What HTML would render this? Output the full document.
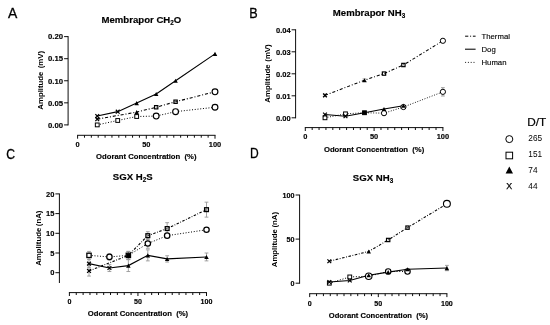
<!DOCTYPE html>
<html><head><meta charset="utf-8"><title>Figure</title>
<style>
html,body{margin:0;padding:0;background:#fff;}
body{width:550px;height:325px;overflow:hidden;}
svg{display:block;filter:blur(0.3px);font-family:'Liberation Sans', Arial, Helvetica, sans-serif;fill:#000;}
svg text{fill:#000;}
</style></head><body>
<svg width="550" height="325" viewBox="0 0 550 325" font-family="Liberation Sans, Arial, sans-serif">
<rect width="550" height="325" fill="#fff"/>
<text x="141.4" y="22.5" text-anchor="middle" font-weight="bold" font-size="9.6" stroke="#000" stroke-width="0.15">Membrapor CH<tspan font-size="6.3" dy="2">2</tspan><tspan dy="-2">O</tspan></text>
<path d="M68.1 36.1 V125.4 M68.1 124.90 h-4.0 M68.1 102.83 h-4.0 M68.1 80.76 h-4.0 M68.1 58.69 h-4.0 M68.1 36.62 h-4.0" stroke="#000" stroke-width="0.95" fill="none"/>
<text x="63.10" y="127.65" text-anchor="end" font-weight="bold" font-size="7.75" stroke="#000" stroke-width="0.15">0.00</text>
<text x="63.10" y="105.58" text-anchor="end" font-weight="bold" font-size="7.75" stroke="#000" stroke-width="0.15">0.05</text>
<text x="63.10" y="83.51" text-anchor="end" font-weight="bold" font-size="7.75" stroke="#000" stroke-width="0.15">0.10</text>
<text x="63.10" y="61.44" text-anchor="end" font-weight="bold" font-size="7.75" stroke="#000" stroke-width="0.15">0.15</text>
<text x="63.10" y="39.37" text-anchor="end" font-weight="bold" font-size="7.75" stroke="#000" stroke-width="0.15">0.20</text>
<path d="M77.1 135.3 H215.5 M77.60 135.3 v3.4 M84.47 135.3 v2.4 M91.34 135.3 v2.4 M98.21 135.3 v2.4 M105.08 135.3 v2.4 M111.95 135.3 v2.4 M118.82 135.3 v2.4 M125.69 135.3 v2.4 M132.56 135.3 v2.4 M139.43 135.3 v2.4 M146.30 135.3 v3.4 M153.17 135.3 v2.4 M160.04 135.3 v2.4 M166.91 135.3 v2.4 M173.78 135.3 v2.4 M180.65 135.3 v2.4 M187.52 135.3 v2.4 M194.39 135.3 v2.4 M201.26 135.3 v2.4 M208.13 135.3 v2.4 M215.00 135.3 v3.4" stroke="#000" stroke-width="0.95" fill="none"/>
<text x="77.60" y="147.30" text-anchor="middle" font-weight="bold" font-size="7.45" stroke="#000" stroke-width="0.15">0</text>
<text x="146.30" y="147.30" text-anchor="middle" font-weight="bold" font-size="7.45" stroke="#000" stroke-width="0.15">50</text>
<text x="215.00" y="147.30" text-anchor="middle" font-weight="bold" font-size="7.45" stroke="#000" stroke-width="0.15">100</text>
<text x="146.30" y="158.60" text-anchor="middle" font-weight="bold" font-size="7.7" stroke="#000" stroke-width="0.15" xml:space="preserve">Odorant Concentration  (%)</text>
<text transform="translate(42.6 80.3) rotate(-90)" text-anchor="middle" font-weight="bold" font-size="7.8" >Amplitude<tspan dx="3.3">(mV)</tspan></text>
<path d="M97.25 124.90 L117.72 120.49 L136.68 116.51 L156.19 116.07 L175.57 111.66 L215.00 107.24" stroke="#000" stroke-width="1.0" fill="none" stroke-dasharray="1.00 1.75"/>
<path d="M97.25 119.16 L136.68 112.10 L156.19 107.24 L175.57 101.73 L215.00 91.80" stroke="#000" stroke-width="1.1" fill="none" stroke-dasharray="3.10 1.90 1.00 1.90"/>
<path d="M97.25 116.07 L117.72 111.66 L136.68 103.05 L156.19 94.00 L175.57 80.76 L215.00 53.83" stroke="#000" stroke-width="1.1" fill="none"/>
<rect x="95.35" y="123.00" width="3.8" height="3.8" fill="#fff" stroke="#000" stroke-width="1.0"/>
<rect x="115.82" y="118.59" width="3.8" height="3.8" fill="#fff" stroke="#000" stroke-width="1.0"/>
<rect x="134.78" y="114.61" width="3.8" height="3.8" fill="#fff" stroke="#000" stroke-width="1.0"/>
<circle cx="156.19" cy="116.07" r="2.9" fill="#fff" stroke="#000" stroke-width="1.15"/>
<circle cx="175.57" cy="111.66" r="2.9" fill="#fff" stroke="#000" stroke-width="1.15"/>
<circle cx="215.00" cy="107.24" r="2.9" fill="#fff" stroke="#000" stroke-width="1.15"/>
<path d="M95.35 117.26 L99.15 121.06 M95.35 121.06 L99.15 117.26" stroke="#000" stroke-width="1.2" fill="none"/>
<path d="M136.68 110.10 L138.93 114.20 L134.43 114.20 Z" fill="#000"/>
<rect x="154.54" y="105.59" width="3.3" height="3.3" fill="#fff" fill-opacity="0.25" stroke="#000" stroke-width="1.2"/>
<rect x="173.92" y="100.08" width="3.3" height="3.3" fill="#fff" fill-opacity="0.25" stroke="#000" stroke-width="1.2"/>
<circle cx="215.00" cy="91.80" r="2.9" fill="#fff" stroke="#000" stroke-width="1.15"/>
<path d="M95.35 114.17 L99.15 117.97 M95.35 117.97 L99.15 114.17" stroke="#000" stroke-width="1.2" fill="none"/>
<path d="M115.82 109.76 L119.62 113.56 M115.82 113.56 L119.62 109.76" stroke="#000" stroke-width="1.2" fill="none"/>
<path d="M136.68 101.05 L138.93 105.15 L134.43 105.15 Z" fill="#000"/>
<path d="M156.19 92.00 L158.44 96.10 L153.94 96.10 Z" fill="#000"/>
<path d="M175.57 78.76 L177.82 82.86 L173.32 82.86 Z" fill="#000"/>
<path d="M215.00 51.83 L217.25 55.93 L212.75 55.93 Z" fill="#000"/>
<text x="369.0" y="15.9" text-anchor="middle" font-weight="bold" font-size="9.6" stroke="#000" stroke-width="0.15">Membrapor NH<tspan font-size="6.3" dy="2">3</tspan></text>
<path d="M295.6 29.3 V118.3 M295.6 117.80 h-4.0 M295.6 95.80 h-4.0 M295.6 73.80 h-4.0 M295.6 51.80 h-4.0 M295.6 29.80 h-4.0" stroke="#000" stroke-width="0.95" fill="none"/>
<text x="290.60" y="120.55" text-anchor="end" font-weight="bold" font-size="7.5" stroke="#000" stroke-width="0.15">0.00</text>
<text x="290.60" y="98.55" text-anchor="end" font-weight="bold" font-size="7.5" stroke="#000" stroke-width="0.15">0.01</text>
<text x="290.60" y="76.55" text-anchor="end" font-weight="bold" font-size="7.5" stroke="#000" stroke-width="0.15">0.02</text>
<text x="290.60" y="54.55" text-anchor="end" font-weight="bold" font-size="7.5" stroke="#000" stroke-width="0.15">0.03</text>
<text x="290.60" y="32.55" text-anchor="end" font-weight="bold" font-size="7.5" stroke="#000" stroke-width="0.15">0.04</text>
<path d="M304.8 127.6 H443.4 M305.30 127.6 v3.4 M312.18 127.6 v2.4 M319.06 127.6 v2.4 M325.94 127.6 v2.4 M332.82 127.6 v2.4 M339.70 127.6 v2.4 M346.58 127.6 v2.4 M353.46 127.6 v2.4 M360.34 127.6 v2.4 M367.22 127.6 v2.4 M374.10 127.6 v3.4 M380.98 127.6 v2.4 M387.86 127.6 v2.4 M394.74 127.6 v2.4 M401.62 127.6 v2.4 M408.50 127.6 v2.4 M415.38 127.6 v2.4 M422.26 127.6 v2.4 M429.14 127.6 v2.4 M436.02 127.6 v2.4 M442.90 127.6 v3.4" stroke="#000" stroke-width="0.95" fill="none"/>
<text x="305.30" y="139.40" text-anchor="middle" font-weight="bold" font-size="7.45" stroke="#000" stroke-width="0.15">0</text>
<text x="374.10" y="139.40" text-anchor="middle" font-weight="bold" font-size="7.45" stroke="#000" stroke-width="0.15">50</text>
<text x="442.90" y="139.40" text-anchor="middle" font-weight="bold" font-size="7.45" stroke="#000" stroke-width="0.15">100</text>
<text x="374.10" y="151.50" text-anchor="middle" font-weight="bold" font-size="7.7" stroke="#000" stroke-width="0.15" xml:space="preserve">Odorant Concentration  (%)</text>
<text transform="translate(270.1 73.5) rotate(-90)" text-anchor="middle" font-weight="bold" font-size="7.8" >Amplitude<tspan dx="2.8">(mV)</tspan></text>
<path d="M442.90 87.66 V96.02 M441.00 87.66 h3.8 M441.00 96.02 h3.8" stroke="#999" stroke-width="0.9" fill="none"/>
<path d="M324.98 117.80 L345.48 113.84 L364.47 112.74 L384.01 113.18 L403.41 107.02 L442.90 91.84" stroke="#000" stroke-width="0.93" fill="none" stroke-dasharray="0.93 1.63"/>
<path d="M324.98 94.04 V96.68 M323.08 94.04 h3.8 M323.08 96.68 h3.8" stroke="#999" stroke-width="0.9" fill="none"/>
<path d="M364.47 78.86 V81.50 M362.57 78.86 h3.8 M362.57 81.50 h3.8" stroke="#999" stroke-width="0.9" fill="none"/>
<path d="M324.98 95.36 L364.47 80.18 L384.01 73.58 L403.41 65.00 L442.90 40.80" stroke="#000" stroke-width="1.0230000000000001" fill="none" stroke-dasharray="3.10 1.90 1.00 1.90"/>
<path d="M324.98 114.50 L345.48 116.26 L364.47 112.74 L384.01 109.00 L403.41 105.70" stroke="#000" stroke-width="1.1" fill="none"/>
<rect x="323.08" y="115.90" width="3.8" height="3.8" fill="#fff" stroke="#000" stroke-width="1.0"/>
<rect x="343.58" y="111.94" width="3.8" height="3.8" fill="#fff" stroke="#000" stroke-width="1.0"/>
<rect x="362.57" y="110.84" width="3.8" height="3.8" fill="#fff" stroke="#000" stroke-width="1.0"/>
<circle cx="384.01" cy="113.18" r="2.6" fill="#fff" stroke="#000" stroke-width="1.0"/>
<circle cx="403.41" cy="107.02" r="2.6" fill="#fff" stroke="#000" stroke-width="1.0"/>
<circle cx="442.90" cy="91.84" r="2.6" fill="#fff" stroke="#000" stroke-width="1.0"/>
<path d="M323.08 93.46 L326.88 97.26 M323.08 97.26 L326.88 93.46" stroke="#000" stroke-width="1.2" fill="none"/>
<path d="M364.47 78.18 L366.72 82.28 L362.22 82.28 Z" fill="#000"/>
<rect x="382.36" y="71.93" width="3.3" height="3.3" fill="#fff" fill-opacity="0.25" stroke="#000" stroke-width="1.2"/>
<rect x="401.76" y="63.35" width="3.3" height="3.3" fill="#fff" fill-opacity="0.25" stroke="#000" stroke-width="1.2"/>
<circle cx="442.90" cy="40.80" r="2.6" fill="#fff" stroke="#000" stroke-width="1.0"/>
<path d="M323.08 112.60 L326.88 116.40 M323.08 116.40 L326.88 112.60" stroke="#000" stroke-width="1.2" fill="none"/>
<path d="M343.58 114.36 L347.38 118.16 M343.58 118.16 L347.38 114.36" stroke="#000" stroke-width="1.2" fill="none"/>
<rect x="362.52" y="110.79" width="3.9" height="3.9" fill="#000"/>
<path d="M384.01 107.00 L386.26 111.10 L381.76 111.10 Z" fill="#000"/>
<path d="M403.41 103.70 L405.66 107.80 L401.16 107.80 Z" fill="#000"/>
<text x="132.7" y="179.6" text-anchor="middle" font-weight="bold" font-size="9.6" stroke="#000" stroke-width="0.15">SGX H<tspan font-size="6.3" dy="2">2</tspan><tspan dy="-2">S</tspan></text>
<path d="M59.4 193.5 V283.0 M59.4 272.70 h-4.0 M59.4 253.00 h-4.0 M59.4 233.30 h-4.0 M59.4 213.60 h-4.0 M59.4 193.90 h-4.0" stroke="#000" stroke-width="0.95" fill="none"/>
<text x="54.40" y="275.45" text-anchor="end" font-weight="bold" font-size="7.5" stroke="#000" stroke-width="0.15">0</text>
<text x="54.40" y="255.75" text-anchor="end" font-weight="bold" font-size="7.5" stroke="#000" stroke-width="0.15">5</text>
<text x="54.40" y="236.05" text-anchor="end" font-weight="bold" font-size="7.5" stroke="#000" stroke-width="0.15">10</text>
<text x="54.40" y="216.35" text-anchor="end" font-weight="bold" font-size="7.5" stroke="#000" stroke-width="0.15">15</text>
<text x="54.40" y="196.65" text-anchor="end" font-weight="bold" font-size="7.5" stroke="#000" stroke-width="0.15">20</text>
<path d="M68.9 292.6 H207.0 M69.40 292.6 v3.4 M76.26 292.6 v2.4 M83.11 292.6 v2.4 M89.97 292.6 v2.4 M96.82 292.6 v2.4 M103.68 292.6 v2.4 M110.53 292.6 v2.4 M117.39 292.6 v2.4 M124.24 292.6 v2.4 M131.09 292.6 v2.4 M137.95 292.6 v3.4 M144.81 292.6 v2.4 M151.66 292.6 v2.4 M158.51 292.6 v2.4 M165.37 292.6 v2.4 M172.23 292.6 v2.4 M179.08 292.6 v2.4 M185.94 292.6 v2.4 M192.79 292.6 v2.4 M199.65 292.6 v2.4 M206.50 292.6 v3.4" stroke="#000" stroke-width="0.95" fill="none"/>
<text x="69.40" y="303.80" text-anchor="middle" font-weight="bold" font-size="7.1" stroke="#000" stroke-width="0.15">0</text>
<text x="137.95" y="303.80" text-anchor="middle" font-weight="bold" font-size="7.1" stroke="#000" stroke-width="0.15">50</text>
<text x="206.50" y="303.80" text-anchor="middle" font-weight="bold" font-size="7.1" stroke="#000" stroke-width="0.15">100</text>
<text x="137.95" y="316.10" text-anchor="middle" font-weight="bold" font-size="7.7" stroke="#000" stroke-width="0.15" xml:space="preserve">Odorant Concentration  (%)</text>
<text transform="translate(40.8 238.2) rotate(-90)" text-anchor="middle" font-weight="bold" font-size="7.8" >Amplitude<tspan dx="1.5">(nA)</tspan></text>
<path d="M89.01 251.42 V259.30 M87.11 251.42 h3.8 M87.11 259.30 h3.8" stroke="#999" stroke-width="0.9" fill="none"/>
<path d="M109.43 253.79 V260.09 M107.53 253.79 h3.8 M107.53 260.09 h3.8" stroke="#999" stroke-width="0.9" fill="none"/>
<path d="M128.35 251.42 V259.30 M126.45 251.42 h3.8 M126.45 259.30 h3.8" stroke="#999" stroke-width="0.9" fill="none"/>
<path d="M147.82 238.82 V248.27 M145.92 238.82 h3.8 M145.92 248.27 h3.8" stroke="#999" stroke-width="0.9" fill="none"/>
<path d="M89.01 255.36 L109.43 256.94 L128.35 255.36 L147.82 243.54 L167.15 235.66 L206.50 229.75" stroke="#000" stroke-width="1.0" fill="none" stroke-dasharray="1.00 1.75"/>
<path d="M89.01 265.80 V276.05 M87.11 265.80 h3.8 M87.11 276.05 h3.8" stroke="#999" stroke-width="0.9" fill="none"/>
<path d="M128.35 251.42 V259.30 M126.45 251.42 h3.8 M126.45 259.30 h3.8" stroke="#999" stroke-width="0.9" fill="none"/>
<path d="M147.82 231.72 V239.60 M145.92 231.72 h3.8 M145.92 239.60 h3.8" stroke="#999" stroke-width="0.9" fill="none"/>
<path d="M167.15 222.66 V234.48 M165.25 222.66 h3.8 M165.25 234.48 h3.8" stroke="#999" stroke-width="0.9" fill="none"/>
<path d="M206.50 202.17 V217.15 M204.60 202.17 h3.8 M204.60 217.15 h3.8" stroke="#999" stroke-width="0.9" fill="none"/>
<path d="M89.01 270.93 L128.35 255.36 L147.82 235.66 L167.15 228.57 L206.50 209.66" stroke="#000" stroke-width="1.1" fill="none" stroke-dasharray="2.48 1.52 0.80 1.52"/>
<path d="M89.01 259.70 V267.58 M87.11 259.70 h3.8 M87.11 267.58 h3.8" stroke="#999" stroke-width="0.9" fill="none"/>
<path d="M109.43 264.43 V271.52 M107.53 264.43 h3.8 M107.53 271.52 h3.8" stroke="#999" stroke-width="0.9" fill="none"/>
<path d="M128.35 259.70 V271.52 M126.45 259.70 h3.8 M126.45 271.52 h3.8" stroke="#999" stroke-width="0.9" fill="none"/>
<path d="M147.82 249.85 V260.88 M145.92 249.85 h3.8 M145.92 260.88 h3.8" stroke="#999" stroke-width="0.9" fill="none"/>
<path d="M167.15 255.76 V262.06 M165.25 255.76 h3.8 M165.25 262.06 h3.8" stroke="#999" stroke-width="0.9" fill="none"/>
<path d="M206.50 253.00 V260.88 M204.60 253.00 h3.8 M204.60 260.88 h3.8" stroke="#999" stroke-width="0.9" fill="none"/>
<path d="M89.01 263.64 L109.43 267.97 L128.35 265.61 L147.82 255.36 L167.15 258.91 L206.50 256.94" stroke="#000" stroke-width="1.1" fill="none"/>
<rect x="86.86" y="253.21" width="4.3" height="4.3" fill="#fff" stroke="#000" stroke-width="1.3"/>
<circle cx="109.43" cy="256.94" r="2.7" fill="#fff" stroke="#000" stroke-width="1.25"/>
<rect x="126.20" y="253.21" width="4.3" height="4.3" fill="#fff" stroke="#000" stroke-width="1.3"/>
<circle cx="147.82" cy="243.54" r="2.7" fill="#fff" stroke="#000" stroke-width="1.25"/>
<circle cx="167.15" cy="235.66" r="2.7" fill="#fff" stroke="#000" stroke-width="1.25"/>
<circle cx="206.50" cy="229.75" r="2.7" fill="#fff" stroke="#000" stroke-width="1.25"/>
<path d="M87.11 269.03 L90.91 272.83 M87.11 272.83 L90.91 269.03" stroke="#000" stroke-width="1.2" fill="none"/>
<rect x="126.40" y="253.41" width="3.9" height="3.9" fill="#000"/>
<rect x="145.92" y="233.76" width="3.8" height="3.8" fill="#fff" fill-opacity="0.25" stroke="#000" stroke-width="1.3"/>
<rect x="165.25" y="226.67" width="3.8" height="3.8" fill="#fff" fill-opacity="0.25" stroke="#000" stroke-width="1.3"/>
<rect x="204.60" y="207.76" width="3.8" height="3.8" fill="#fff" fill-opacity="0.25" stroke="#000" stroke-width="1.3"/>
<path d="M87.11 261.74 L90.91 265.54 M87.11 265.54 L90.91 261.74" stroke="#000" stroke-width="1.2" fill="none"/>
<path d="M107.53 266.07 L111.33 269.87 M107.53 269.87 L111.33 266.07" stroke="#000" stroke-width="1.2" fill="none"/>
<path d="M128.35 263.61 L130.60 267.71 L126.10 267.71 Z" fill="#000"/>
<path d="M147.82 253.36 L150.07 257.46 L145.57 257.46 Z" fill="#000"/>
<path d="M167.15 256.91 L169.40 261.01 L164.90 261.01 Z" fill="#000"/>
<path d="M206.50 254.94 L208.75 259.04 L204.25 259.04 Z" fill="#000"/>
<text x="373.0" y="180.8" text-anchor="middle" font-weight="bold" font-size="9.6" stroke="#000" stroke-width="0.15">SGX NH<tspan font-size="6.3" dy="2">3</tspan></text>
<path d="M299.6 194.7 V283.7 M299.6 283.20 h-4.0 M299.6 239.10 h-4.0 M299.6 195.00 h-4.0" stroke="#000" stroke-width="0.95" fill="none"/>
<text x="294.60" y="285.95" text-anchor="end" font-weight="bold" font-size="7.2" stroke="#000" stroke-width="0.15">0</text>
<text x="294.60" y="241.85" text-anchor="end" font-weight="bold" font-size="7.2" stroke="#000" stroke-width="0.15">50</text>
<text x="294.60" y="197.75" text-anchor="end" font-weight="bold" font-size="7.2" stroke="#000" stroke-width="0.15">100</text>
<path d="M309.2 293.7 H447.4 M309.70 293.7 v3.4 M316.56 293.7 v2.4 M323.42 293.7 v2.4 M330.28 293.7 v2.4 M337.14 293.7 v2.4 M344.00 293.7 v2.4 M350.86 293.7 v2.4 M357.72 293.7 v2.4 M364.58 293.7 v2.4 M371.44 293.7 v2.4 M378.30 293.7 v3.4 M385.16 293.7 v2.4 M392.02 293.7 v2.4 M398.88 293.7 v2.4 M405.74 293.7 v2.4 M412.60 293.7 v2.4 M419.46 293.7 v2.4 M426.32 293.7 v2.4 M433.18 293.7 v2.4 M440.04 293.7 v2.4 M446.90 293.7 v3.4" stroke="#000" stroke-width="0.95" fill="none"/>
<text x="309.70" y="305.60" text-anchor="middle" font-weight="bold" font-size="7.1" stroke="#000" stroke-width="0.15">0</text>
<text x="378.30" y="305.60" text-anchor="middle" font-weight="bold" font-size="7.1" stroke="#000" stroke-width="0.15">50</text>
<text x="446.90" y="305.60" text-anchor="middle" font-weight="bold" font-size="7.1" stroke="#000" stroke-width="0.15">100</text>
<text x="378.40" y="317.60" text-anchor="middle" font-weight="bold" font-size="7.6" stroke="#000" stroke-width="0.15" xml:space="preserve">Odorant Concentration  (%)</text>
<text transform="translate(276.7 239.6) rotate(-90)" text-anchor="middle" font-weight="bold" font-size="7.8" >Amplitude<tspan dx="1.5">(nA)</tspan></text>
<path d="M329.32 283.20 L349.76 276.94 L368.70 276.23 L388.18 271.47 L407.52 271.56" stroke="#000" stroke-width="1.0" fill="none" stroke-dasharray="1.00 1.75"/>
<path d="M329.32 261.24 L368.70 251.45 L388.18 239.98 L407.52 227.63 L446.90 203.82" stroke="#000" stroke-width="1.1" fill="none" stroke-dasharray="2.57 1.58 0.83 1.58"/>
<path d="M446.90 265.38 V270.68 M445.00 265.38 h3.8 M445.00 270.68 h3.8" stroke="#999" stroke-width="0.9" fill="none"/>
<path d="M329.32 282.05 L349.76 280.55 L368.70 275.26 L388.18 272.09 L407.52 269.18 L446.90 268.03" stroke="#000" stroke-width="1.1" fill="none"/>
<rect x="327.42" y="281.30" width="3.8" height="3.8" fill="#fff" stroke="#000" stroke-width="1.0"/>
<rect x="347.86" y="275.04" width="3.8" height="3.8" fill="#fff" stroke="#000" stroke-width="1.0"/>
<circle cx="368.70" cy="276.23" r="3.25" fill="#fff" stroke="#000" stroke-width="1.1"/>
<circle cx="388.18" cy="271.47" r="2.7" fill="#fff" stroke="#000" stroke-width="1.15"/>
<circle cx="407.52" cy="271.56" r="2.7" fill="#fff" stroke="#000" stroke-width="1.15"/>
<path d="M327.42 259.34 L331.22 263.14 M327.42 263.14 L331.22 259.34" stroke="#000" stroke-width="1.2" fill="none"/>
<path d="M368.70 249.45 L370.95 253.55 L366.45 253.55 Z" fill="#000"/>
<rect x="386.53" y="238.33" width="3.3" height="3.3" fill="#fff" fill-opacity="0.25" stroke="#000" stroke-width="1.2"/>
<rect x="405.87" y="225.98" width="3.3" height="3.3" fill="#fff" fill-opacity="0.25" stroke="#000" stroke-width="1.2"/>
<circle cx="446.90" cy="203.82" r="3.45" fill="#fff" stroke="#000" stroke-width="1.1"/>
<path d="M327.42 280.15 L331.22 283.95 M327.42 283.95 L331.22 280.15" stroke="#000" stroke-width="1.2" fill="none"/>
<path d="M347.86 278.65 L351.66 282.45 M347.86 282.45 L351.66 278.65" stroke="#000" stroke-width="1.2" fill="none"/>
<path d="M368.70 273.26 L370.95 277.36 L366.45 277.36 Z" fill="#000"/>
<path d="M388.18 270.09 L390.43 274.19 L385.93 274.19 Z" fill="#000"/>
<path d="M407.52 267.18 L409.77 271.28 L405.27 271.28 Z" fill="#000"/>
<path d="M446.90 266.03 L449.15 270.13 L444.65 270.13 Z" fill="#000"/>
<text x="7.9" y="17.9" font-size="14.6" textLength="9.3" lengthAdjust="spacingAndGlyphs" stroke="#000" stroke-width="0.3">A</text>
<text x="249.3" y="17.6" font-size="14.6" textLength="8.4" lengthAdjust="spacingAndGlyphs" stroke="#000" stroke-width="0.3">B</text>
<text x="6.2" y="158.9" font-size="14.6" textLength="8.8" lengthAdjust="spacingAndGlyphs" stroke="#000" stroke-width="0.3">C</text>
<text x="250.0" y="157.5" font-size="14.6" textLength="8.7" lengthAdjust="spacingAndGlyphs" stroke="#000" stroke-width="0.3">D</text>
<path d="M465.1 36.2 H475.6" stroke="#000" stroke-width="1" stroke-dasharray="3.2 1.8 1 1.8" fill="none"/>
<path d="M465.0 49.2 H475.6" stroke="#000" stroke-width="1.05" fill="none"/>
<path d="M465.1 62.4 H475.6" stroke="#000" stroke-width="0.9" stroke-dasharray="1 1.8" fill="none"/>
<text x="481.5" y="38.8" font-size="7.75" stroke="#000" stroke-width="0.12">Thermal</text>
<text x="481.5" y="51.8" font-size="7.75" stroke="#000" stroke-width="0.12">Dog</text>
<text x="481.5" y="65.2" font-size="7.75" stroke="#000" stroke-width="0.12">Human</text>
<text x="527.2" y="126.2" font-size="11.6" textLength="19" lengthAdjust="spacingAndGlyphs" stroke="#000" stroke-width="0.2">D/T</text>
<circle cx="509.3" cy="139.1" r="3.5" fill="#fff" stroke="#000" stroke-width="1"/>
<rect x="506" y="152.2" width="6.6" height="6.6" fill="#fff" stroke="#000" stroke-width="1"/>
<path d="M509.3 166.6 L513 173.6 L505.6 173.6 Z" fill="#000"/>
<text x="509.3" y="188.9" font-size="8.8" text-anchor="middle" stroke="#000" stroke-width="0.25">X</text>
<text x="528.3" y="141.4" font-size="8.5" textLength="13.8" lengthAdjust="spacingAndGlyphs">265</text>
<text x="528.3" y="157.2" font-size="8.5" textLength="13.8" lengthAdjust="spacingAndGlyphs">151</text>
<text x="528.3" y="173.4" font-size="8.5" textLength="9.2" lengthAdjust="spacingAndGlyphs">74</text>
<text x="528.3" y="189.1" font-size="8.5" textLength="9.2" lengthAdjust="spacingAndGlyphs">44</text>
</svg>
</body></html>
